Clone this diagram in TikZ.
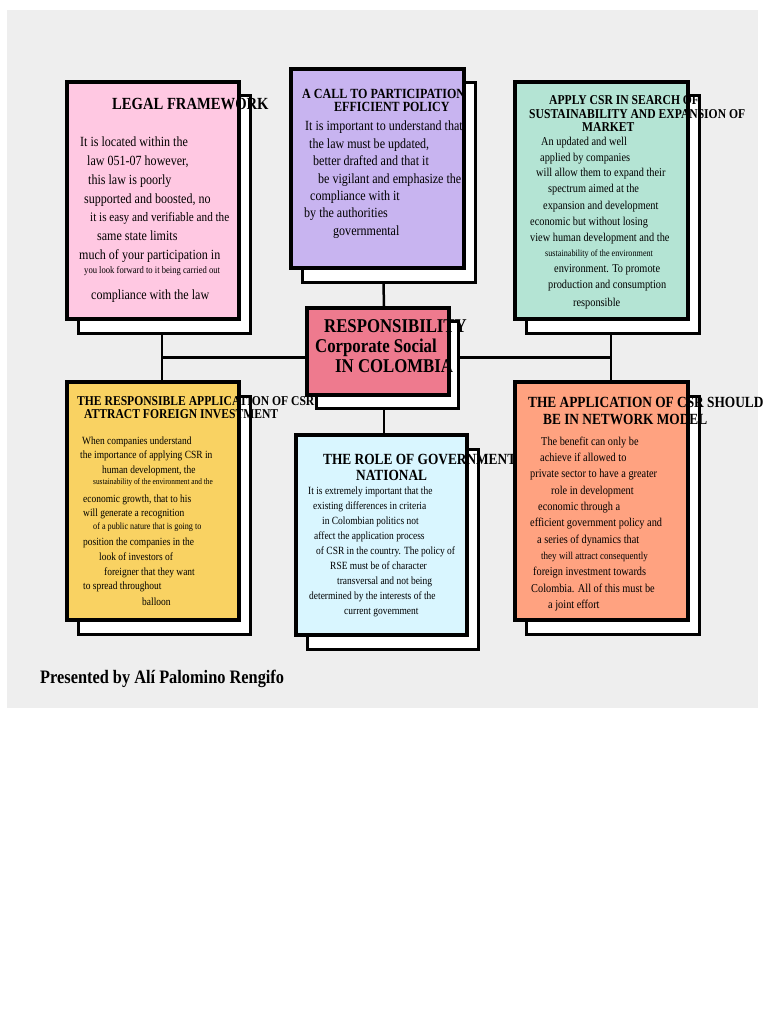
\documentclass[tikz,border=0pt]{standalone}
\usepackage{fontspec}
\setmainfont{Liberation Serif}[FakeStretch=0.86]
\usepackage{tikz}
\usetikzlibrary{positioning, shadows}

\definecolor{panelgray}{RGB}{238,238,238}
\definecolor{legalpink}{RGB}{255,200,226}
\definecolor{callviolet}{RGB}{200,180,240}
\definecolor{applymint}{RGB}{180,228,212}
\definecolor{hubrose}{RGB}{238,122,142}
\definecolor{investgold}{RGB}{249,210,98}
\definecolor{govcyan}{RGB}{217,246,255}
\definecolor{netsalmon}{RGB}{255,162,128}

\newcommand{\fs}[2]{{\fontsize{#1}{#1}\selectfont #2}}

\begin{document}
\begin{tikzpicture}[x=1pt, y=-1pt,
    card/.style = {draw=black, line width=3.5pt, inner sep=0pt,
        copy shadow={shadow xshift=11pt, shadow yshift=-14pt, fill=white, draw=black, line width=3pt}},
    hubcard/.style = {draw=black, line width=3.5pt, inner sep=0pt,
        copy shadow={shadow xshift=9pt, shadow yshift=-13pt, fill=white, draw=black, line width=3pt}},
    link/.style = {draw=black, line width=2.5pt},
    bodytxt/.style 2 args = {anchor=north west, align=left, inner sep=0pt, font=\fontsize{#1}{#2}\selectfont},
    headtxt/.style 2 args = {anchor=north west, align=left, inner sep=0pt, font=\bfseries\fontsize{#1}{#2}\selectfont}
]

\path[use as bounding box, fill=white] (0,0) rectangle (768,1024);
\fill[panelgray] (7,10) rectangle (758,708);

% cards
\node[card, fill=legalpink, minimum width=172pt, minimum height=237pt] (legal) at (153,200.5) {};
\node[card, fill=callviolet, minimum width=173pt, minimum height=199pt] (call) at (377.5,168.5) {};
\node[card, fill=applymint, minimum width=173pt, minimum height=237pt] (apply) at (601.5,200.5) {};
\node[card, fill=investgold, minimum width=172pt, minimum height=238pt] (invest) at (153,501) {};
\node[card, fill=govcyan, minimum width=171pt, minimum height=200pt] (gov) at (381.5,535) {};
\node[card, fill=netsalmon, minimum width=173pt, minimum height=238pt] (network) at (601.5,501) {};

% texts
\node[headtxt={17}{17}] (legal-head) at (112,98.4) {LEGAL FRAMEWORK};
\node[bodytxt={14}{19}] (legal-body) at (79,137) {%
\hspace*{1pt}It is located within the\\
\hspace*{8pt}law 051-07 however,\\
\hspace*{9pt}this law is poorly\\
\hspace*{5pt}supported and boosted, no\\[-1pt]
\hspace*{11pt}\fs{13}{it is easy and verifiable and the}\\
\hspace*{18pt}same state limits\\
much of your participation in\\[-5pt]
\hspace*{5pt}\fs{10}{you look forward to it being carried out}\\[6.5pt]
\hspace*{12pt}compliance with the law};

\node[headtxt={14}{13}] (call-head) at (302,89.4) {A CALL TO PARTICIPATION\\
\hspace*{32pt}EFFICIENT POLICY};
\node[bodytxt={14}{17.4}] (call-body) at (304,121) {%
\hspace*{1pt}It is important to understand that\\
\hspace*{5pt}the law must be updated,\\
\hspace*{9pt}better drafted and that it\\
\hspace*{14pt}be vigilant and emphasize the\\
\hspace*{6pt}compliance with it\\
by the authorities\\
\hspace*{29pt}governmental};

\node[headtxt={13.5}{13.5}] (apply-head) at (529,95.5) {\hspace*{20pt}APPLY CSR IN SEARCH OF\\
SUSTAINABILITY AND EXPANSION OF\\
\hspace*{53pt}MARKET};
\node[bodytxt={12}{16.3}] (apply-body) at (530,136.7) {%
\hspace*{11pt}An updated and well\\
\hspace*{10pt}applied by companies\\[-1.3pt]
\hspace*{6pt}will allow them to expand their\\
\hspace*{18pt}spectrum aimed at the\\
\hspace*{13pt}expansion and development\\
economic but without losing\\
view human development and the\\[-2pt]
\hspace*{15pt}\fs{9.5}{sustainability of the environment}\\[0.3pt]
\hspace*{24pt}environment. To promote\\
\hspace*{18pt}production and consumption\\[1.5pt]
\hspace*{43pt}responsible};

\node[headtxt={13.5}{13}] (invest-head) at (77,396.5) {THE RESPONSIBLE APPLICATION OF CSR\\
\hspace*{7pt}ATTRACT FOREIGN INVESTMENT};
\node[bodytxt={11}{14.6}] (invest-body) at (80,437) {%
\hspace*{2pt}When companies understand\\[-0.6pt]
the importance of applying CSR in\\[0.4pt]
\hspace*{22pt}human development, the\\[-4pt]
\hspace*{13pt}\fs{8.5}{sustainability of the environment and the}\\[3.5pt]
\hspace*{3pt}economic growth, that to his\\[-0.6pt]
\hspace*{3pt}will generate a recognition\\[-1.4pt]
\hspace*{13pt}\fs{9.5}{of a public nature that is going to}\\[1.2pt]
\hspace*{3pt}position the companies in the\\[0.4pt]
\hspace*{19pt}look of investors of\\[0.4pt]
\hspace*{24pt}foreigner that they want\\[-0.6pt]
\hspace*{3pt}to spread throughout\\[1.4pt]
\hspace*{62pt}balloon};

\node[headtxt={15.5}{16}] (gov-head) at (323,453.9) {THE ROLE OF GOVERNMENT\\
\hspace*{33pt}NATIONAL};
\node[bodytxt={11}{14.9}] (gov-body) at (308,487) {%
It is extremely important that the\\
\hspace*{5pt}existing differences in criteria\\
\hspace*{14pt}in Colombian politics not\\
\hspace*{6pt}affect the application process\\
\hspace*{8pt}of CSR in the country. The policy of\\
\hspace*{22pt}RSE must be of character\\
\hspace*{29pt}transversal and not being\\
\hspace*{1pt}determined by the interests of the\\
\hspace*{36pt}current government};

\node[headtxt={15.5}{17}] (network-head) at (528,396.9) {THE APPLICATION OF CSR SHOULD\\
\hspace*{15pt}BE IN NETWORK MODEL};
\node[bodytxt={12}{16.3}] (network-body) at (530,436.7) {%
\hspace*{11pt}The benefit can only be\\
\hspace*{10pt}achieve if allowed to\\
private sector to have a greater\\
\hspace*{21pt}role in development\\
\hspace*{8pt}economic through a\\
efficient government policy and\\
\hspace*{7pt}a series of dynamics that\\
\hspace*{11pt}\fs{10.5}{they will attract consequently}\\
\hspace*{3pt}foreign investment towards\\
\hspace*{1pt}Colombia. All of this must be\\
\hspace*{18pt}a joint effort};

% hub
\node[hubcard, fill=hubrose, minimum width=142pt, minimum height=87pt] (hub) at (378,351.5) {};
\node[headtxt={19.5}{20}] (hub-head) at (315,319.6) {\hspace*{9pt}RESPONSIBILITY\\
Corporate Social\\
\hspace*{20pt}IN COLOMBIA};

% links
\draw[link] ([shift={(9pt,-14pt)}]legal.south) -- ([xshift=9pt]invest.north);
\draw[link] ([yshift=-6pt]hub.west) -| ([xshift=9pt]invest.north);
\draw[link] ([shift={(9.5pt,-14pt)}]apply.south) -- ([xshift=9.5pt]network.north);
\draw[link] ([shift={(9pt,-6pt)}]hub.east) -| ([xshift=9.5pt]network.north);
\draw[link] ([shift={(6pt,-14pt)}]call.south) -- ([xshift=6pt]hub.north);
\draw[link] ([shift={(6pt,-13pt)}]hub.south) -- ([xshift=2.5pt]gov.north);

\node[headtxt={19}{19}, anchor=west] (credit) at (40,679) {Presented by Alí Palomino Rengifo};

\end{tikzpicture}
\end{document}
